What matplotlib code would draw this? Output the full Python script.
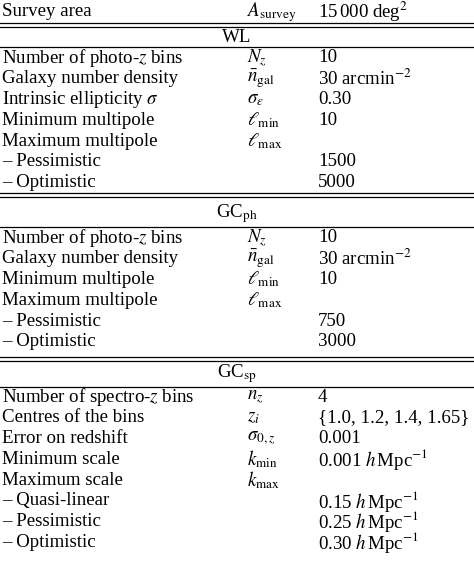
import matplotlib
matplotlib.use("Agg")
import matplotlib.pyplot as plt

plt.rcParams['font.family'] = ['Liberation Serif', 'DejaVu Serif']
plt.rcParams['mathtext.fontset'] = 'stix'

# table content
header_row = ("Survey area", r"$A_\mathrm{survey}$", r"15$\,$000 deg$^2$")
sections = [r"WL", r"GC$_\mathrm{ph}$", r"GC$_\mathrm{sp}$"]
wl_rows = [
    ("Number of photo-$z$ bins", r"$N_z$", "10"),
    ("Galaxy number density", r"$\bar{n}_\mathrm{gal}$", r"30 arcmin$^{-2}$"),
    (r"Intrinsic ellipticity $\sigma$", r"$\sigma_\epsilon$", "0.30"),
    ("Minimum multipole", r"$\ell_\mathrm{min}$", "10"),
    ("Maximum multipole", r"$\ell_\mathrm{max}$", ""),
    ("– Pessimistic", "", "1500"),
    ("– Optimistic", "", "5000"),
]
gcph_rows = [
    ("Number of photo-$z$ bins", r"$N_z$", "10"),
    ("Galaxy number density", r"$\bar{n}_\mathrm{gal}$", r"30 arcmin$^{-2}$"),
    ("Minimum multipole", r"$\ell_\mathrm{min}$", "10"),
    ("Maximum multipole", r"$\ell_\mathrm{max}$", ""),
    ("– Pessimistic", "", "750"),
    ("– Optimistic", "", "3000"),
]
gcsp_rows = [
    ("Number of spectro-$z$ bins", r"$n_z$", "4"),
    ("Centres of the bins", r"$z_i$", r"{1.0, 1.2, 1.4, 1.65}"),
    ("Error on redshift", r"$\sigma_{0,z}$", "0.001"),
    ("Minimum scale", r"$k_\mathrm{min}$", r"0.001 $h\,$Mpc$^{-1}$"),
    ("Maximum scale", r"$k_\mathrm{max}$", ""),
    ("– Quasi-linear", "", r"0.15 $h\,$Mpc$^{-1}$"),
    ("– Pessimistic", "", r"0.25 $h\,$Mpc$^{-1}$"),
    ("– Optimistic", "", r"0.30 $h\,$Mpc$^{-1}$"),
]

W, H = 474, 565
fig = plt.figure(figsize=(W / 100, H / 100), dpi=100)
ax = fig.add_axes([0, 0, 1, 1])
ax.set_xlim(0, W)
ax.set_ylim(H, 0)
ax.axis('off')

col_x = [2, 247, 318]
fs = 13.6
step = 20.8

def row(y, cells):
    for x, t in zip(col_x, cells):
        if t:
            ax.text(x, y, t, fontsize=fs, va='center', ha='left')

def hline(y):
    ax.plot([0, W], [y, y], color='black', lw=0.9)

# layout of each section block: double rule, title, single rule, first row
line_y = [23, 193, 357]
title_y = [37, 214, 374]
rule_y = [47, 227, 387]
first_y = [58, 238, 397]

row(12, header_row)
for i, (name, rows) in enumerate(zip(sections, [wl_rows, gcph_rows, gcsp_rows])):
    hline(line_y[i])
    hline(line_y[i] + 4)
    ax.text(W / 2, title_y[i], name, fontsize=fs, va='center', ha='center')
    hline(rule_y[i])
    for k, r in enumerate(rows):
        row(first_y[i] + k * step, r)
plt.savefig("out.png", dpi=100)
